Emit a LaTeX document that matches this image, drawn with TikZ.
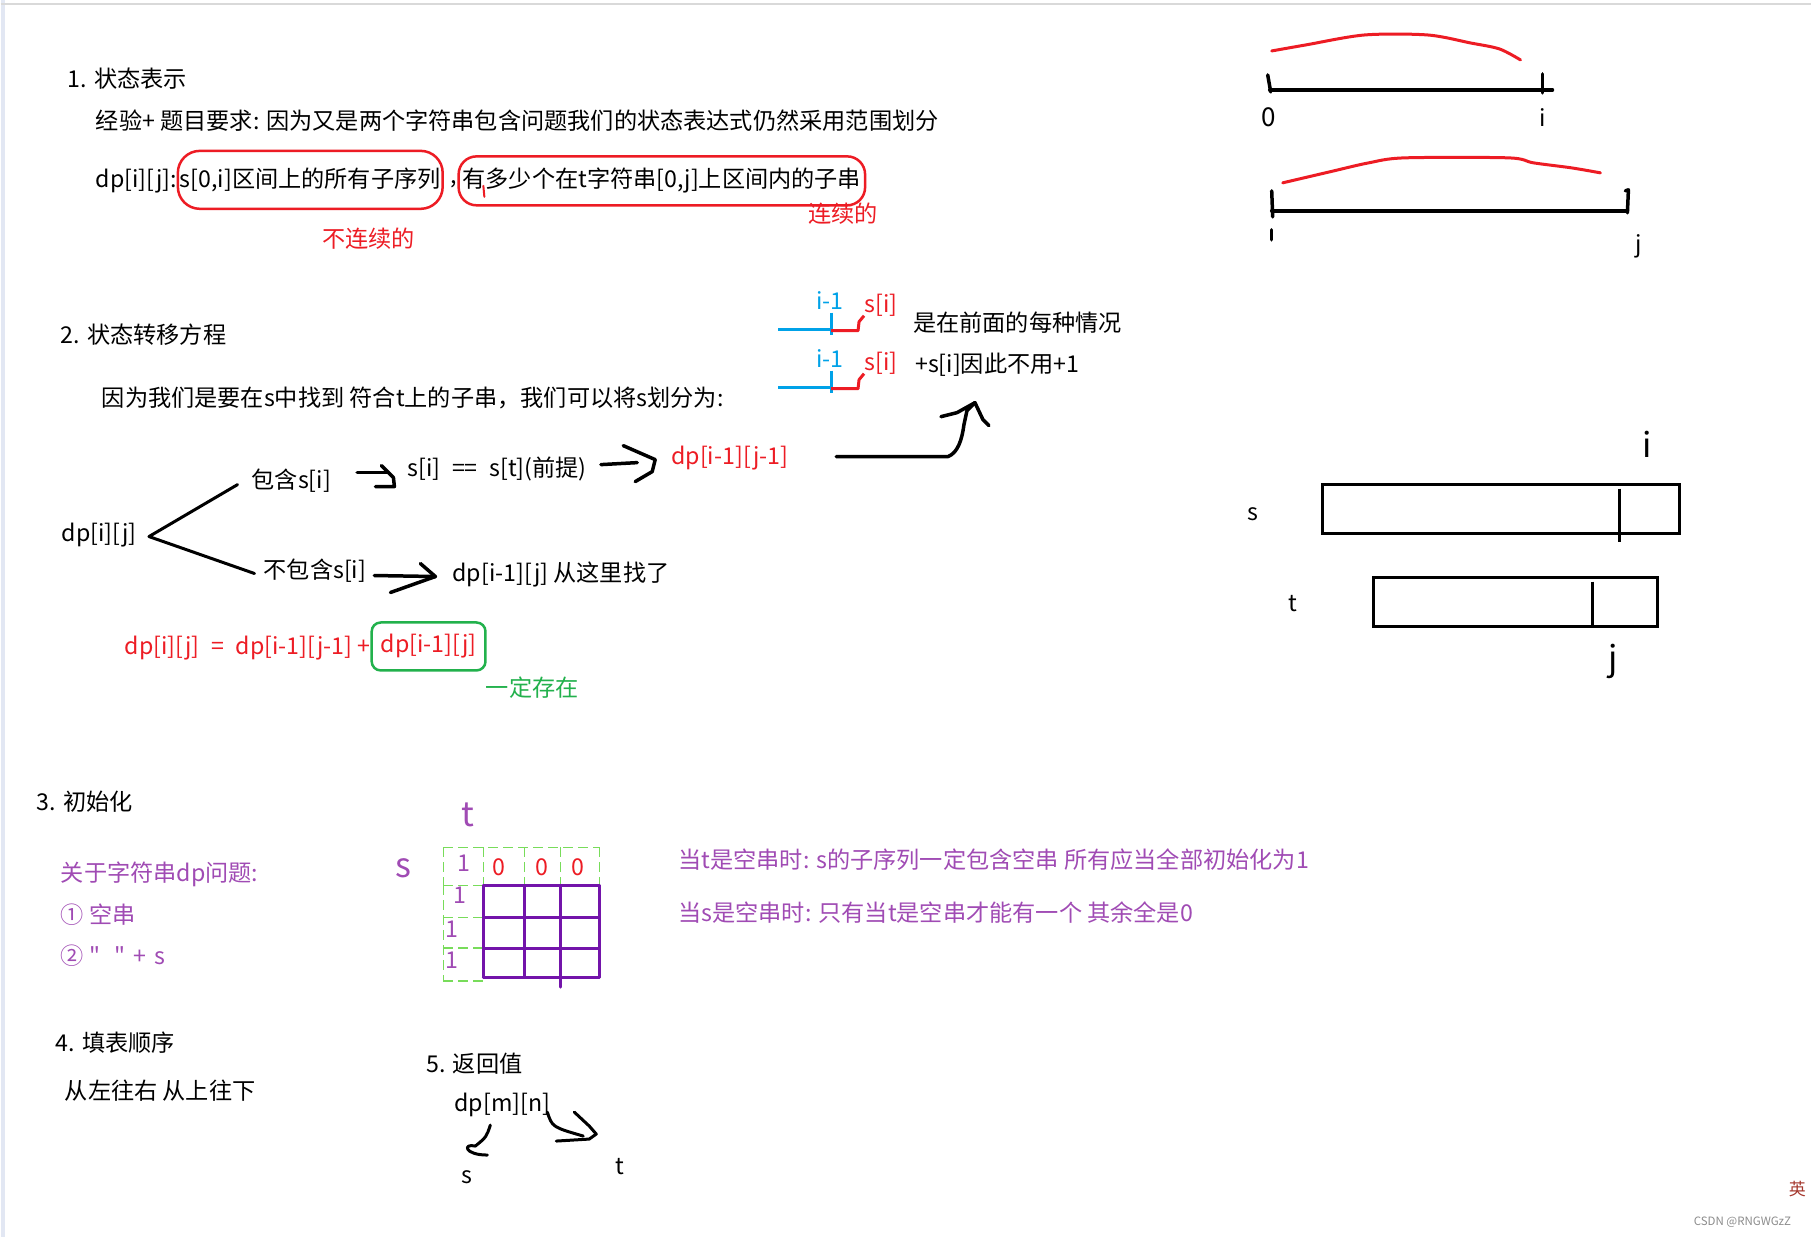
\documentclass[tikz,border=0pt]{standalone}
\usepackage{fontspec}
\setmainfont{Noto Sans CJK SC}[Ligatures=TeXOff]
\definecolor{inkred}{RGB}{237,28,36}
\definecolor{inkblue}{RGB}{0,162,232}
\definecolor{inkgreen}{RGB}{34,177,76}
\definecolor{lightgreen}{RGB}{120,220,90}
\definecolor{gridpurple}{RGB}{115,20,170}
\definecolor{notepurple}{RGB}{160,75,180}
\definecolor{sidebar}{RGB}{226,231,243}
\definecolor{imered}{RGB}{165,55,45}

\begin{document}
\begin{tikzpicture}[x=1pt,y=-1pt,
  every node/.style={inner sep=0pt,font=\fontsize{23.2}{28}\selectfont},
  txt/.style={anchor=west},
  hand/.style={font=\fontsize{34}{40}\selectfont},
  ink/.style={line width=3.5pt,line cap=round,line join=round},
  redline/.style={inkred,line width=3pt,line cap=round,line join=round},
  blueline/.style={inkblue,line width=3pt},
  redbox/.style={draw=inkred,line width=2.5pt},
  box/.style={line width=3pt},
  greendash/.style={lightgreen,line width=1.5pt,dash pattern=on 10pt off 5pt},
  gridline/.style={gridpurple,line width=3pt,line cap=round}]
		% page
		\fill[white] (0,0) rectangle (1812,1238);
		\fill[sidebar] (0,0) rectangle (4,1238);
		\draw[black!15,line width=1.5pt] (0,4) -- (1812,4);
		\useasboundingbox (0,0) rectangle (1812,1238);
		% 1. state
		\node[txt] (head1) at (67,79) {1. 状态表示};
		\node[txt] (exp) at (95,121) {经验+ 题目要求: 因为又是两个字符串包含问题我们的状态表达式仍然采用范围划分};
		\node[txt] (dpdef) at (95,181) {dp[i][j]:};
		\node[txt,redbox,minimum height=58pt,inner xsep=2pt,rounded corners=22pt] (sub) at (176,180) {s[0,i]区间上的所有子序列};
		\node[txt] (comma) at (450,184) {,};
		\node[txt,redbox,minimum height=49pt,inner xsep=4pt,rounded corners=18pt] (cnt) at (457,181) {有多少个在t字符串[0,j]上区间内的子串};
		\draw[redline,line width=2pt] (483,186) -- (484,197);
		\node[text=inkred] (noncont) at (368,239) {不连续的};
		\node[text=inkred] (cont) at (843,214) {连续的};
		% sketch: s[0,i] and t[0,j]
		\draw[redline] plot[smooth] coordinates {(1272,51) (1306,45) (1365,35) (1428,35) (1471,43) (1500,49) (1521,60)};
		\draw[ink] (1270,90) -- (1553,90);
		\draw[ink] (1268,75) -- (1271,92);
		\draw[ink] (1543,74) -- (1543,93);
		\node[font=\fontsize{26}{30}\selectfont] (zero) at (1269,117) {0};
		\node (iend) at (1543,118) {i};
		\draw[redline] plot[smooth] coordinates {(1283,183) (1330,172) (1369,163) (1405,158) (1509,158) (1534,163) (1572,168) (1601,173)};
		\draw[ink] (1272,211) -- (1628,211);
		\draw[ink] (1272,191) -- (1273,217);
		\draw[ink] (1626,191) -- (1629,190) -- (1628,213);
		\draw[ink] (1272,230) -- (1272,240);
		\node (jend) at (1639,247) {j};
		% 2. transition
		\node[txt] (head2) at (60,335) {2. 状态转移方程};
		\node[txt] (why) at (101,398) {因为我们是要在s中找到 符合t上的子串，我们可以将s划分为:};
		\foreach \y/\n in {330/a,388/b} {
			\draw[blueline] (778,\y) -- (831,\y);
			\draw[blueline] (831,\y-17) -- (831,\y+5);
			\draw[redline,line cap=butt] (831,\y+1) -- (858,\y+1) -- (859,\y-8) -- (864,\y-14);
			\node[text=inkblue] (im\n) at (830,\y-29) {i-1};
			\node[text=inkred] (si\n) at (881,\y-24) {s[i]};
		}
		\node[txt] (every) at (913,323) {是在前面的每种情况};
		\node[txt] (plus) at (915,365) {+s[i]因此不用+1};
		% split of dp[i][j]
		\node[txt] (dpij) at (61,536) {dp[i][j]};
		\node[txt] (has) at (251,481) {包含s[i]};
		\node[txt] (cond) at (407,469) {s[i]\enspace==\enspace s[t](前提)};
		\node[txt,text=inkred] (dpprev) at (671,458) {dp[i-1][j-1]};
		\node[txt] (nothas) at (263,571) {不包含s[i]};
		\node[txt] (dpup) at (452,575) {dp[i-1][j] 从这里找了};
		\coordinate (fork) at ([shift={(12,1)}]dpij.east);
		\draw[ink,line width=3pt] ([shift={(-14,4)}]has.west) -- (fork) -- ([shift={(-9,3)}]nothas.west);
		% hand arrows
		\draw[ink] ([shift={(26,-8)}]has.east) -- ([shift={(-19,4)}]cond.west);
		\draw[ink] ([shift={(-26,-3)}]cond.west) -- ++(12,12) -- ++(1,9) -- ++(-19,0);
		\draw[ink] ([shift={(14,-4)}]cond.east) -- ([shift={(-34,5)}]dpprev.west);
		\draw[ink] ([shift={(-48,-12)}]dpprev.west) -- ++(32,14) -- ++(-3,12) -- ++(-17,10);
		\draw[ink] ([shift={(8,5)}]nothas.east) -- ([shift={(-17,2)}]dpup.west);
		\draw[ink] ([shift={(-32,-11)}]dpup.west) -- ++(15,13) -- ++(-45,16);
		\coordinate (uptip) at (975,403);
		\draw[ink] ([shift={(48,-1)}]dpprev.east) -- (948,457) .. controls (958,453) and (962,440) .. (964,425) -- (967,411) -- (uptip);
		\draw[ink] (941,417) -- (957,413) -- (uptip) -- (983,420) -- (989,426);
		% recurrence
		\node[txt,text=inkred] (rec) at (124,649) {dp[i][j]\enspace=\enspace dp[i-1][j-1] +};
		\node[txt,text=inkred,draw=inkgreen,line width=2.5pt,rounded corners=9pt,minimum height=48pt,inner xsep=9pt] (keep) at (370,647) {dp[i-1][j]};
		\node[text=inkgreen] (exist) at (532,688) {一定存在};
		% s and t strips
		\node (slab) at (1253,515) {s};
		\draw[box] (1323,485) rectangle (1680,534);
		\draw[box] (1620,489) -- (1620,542);
		\node[hand] (ihand) at (1648,445) {i};
		\node (tlab) at (1293,604) {t};
		\draw[box] (1374,578) rectangle (1658,627);
		\draw[box] (1593,582) -- (1593,627);
		\node[hand] (jhand) at (1614,662) {j};
		% 3. init
		\node[txt] (head3) at (36,802) {3. 初始化};
		\node[txt,text=notepurple] (about) at (60,875) {关于字符串dp问题:};
		\node[txt,text=notepurple] (one) at (60,915) {① 空串};
		\node[txt,text=notepurple] (two) at (60,956) {② "\hspace{14pt}"\hspace{8pt}+\hspace{8pt}s};
		\node[hand,text=notepurple] (ttab) at (468,816) {t};
		\node[hand,text=notepurple] (stab) at (403,869) {s};
		\draw[greendash] (443,848) -- (599,848);
		\foreach \x in {443,483,524,560,599} \draw[greendash] (\x,848) -- (\x,886);
		\draw[greendash] (443,886) -- (443,982);
		\foreach \y in {886,918,949,982} \draw[greendash] (443,\y) -- (483,\y);
		\foreach \y in {886,918,949,978} \draw[gridline] (483,\y) -- (599,\y);
		\foreach \x in {483,524,560,599} \draw[gridline] (\x,886) -- (\x,978);
		\draw[gridline] (560,978) -- (560,988);
		\foreach \x/\y [count=\k] in {464/864,460/896,452/930,452/961}
			\node[text=notepurple] (c\k) at (\x,\y) {1};
		\foreach \x [count=\k] in {499,542,578}
			\node[text=inkred] (z\k) at (\x,868) {0};
		\node[txt,text=notepurple] (tempty) at (678,860) {当t是空串时: s的子序列一定包含空串 所有应当全部初始化为1};
		\node[txt,text=notepurple] (sempty) at (678,913) {当s是空串时: 只有当t是空串才能有一个 其余全是0};
		% 4. order, 5. result
		\node[txt] (head4) at (55,1044) {4. 填表顺序};
		\node[txt] (order) at (64,1092) {从左往右 从上往下};
		\node[txt] (head5) at (426,1065) {5. 返回值};
		\node[txt] (ret) at (454,1106) {dp[m][n]};
		\node (rets) at (467,1178) {s};
		\node (rett) at (620,1168) {t};
		\draw[ink,line width=3pt] ([shift={(36,20)}]ret.west) .. controls (486,1138) .. (475,1147) .. controls (462,1144) and (464,1156) .. ([shift={(20,-22)}]rets.center);
		\draw[ink,line width=3pt] ([shift={(93,7)}]ret.west) .. controls (552,1128) .. (583,1137);
		\draw[ink,line width=3pt] (574,1113) -- (589,1127) -- (596,1135) -- (589,1140) -- ([shift={(-64,-26)}]rett.center);
		% watermark
		\node[anchor=east,text=black!45,font=\fontsize{11.5}{13}\selectfont] (mark) at (1792,1223) {CSDN @RNGWGzZ};
		\node[text=imered,font=\fontsize{17}{20}\selectfont] (ying) at (1798,1190) {英};
	\end{tikzpicture}
\end{document}
